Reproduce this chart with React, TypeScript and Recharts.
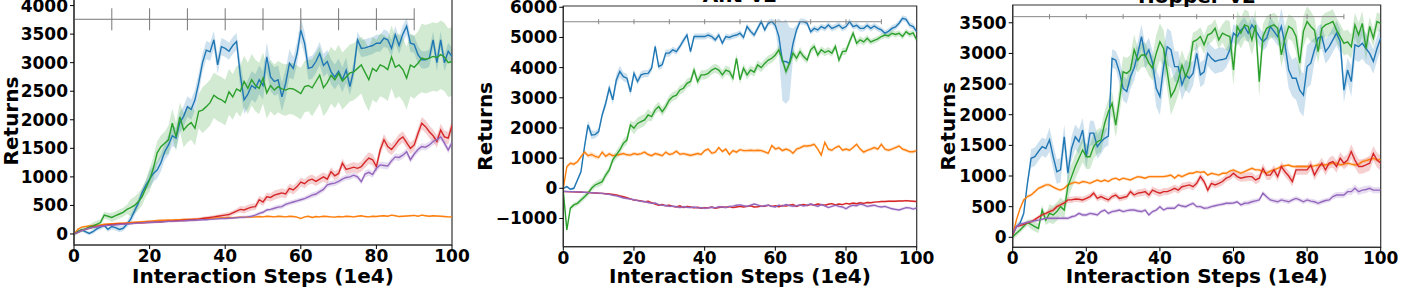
import React from 'react';
import { ComposedChart, Line, Area, XAxis, YAxis, ReferenceArea, Label } from 'recharts';

const FONT = '"DejaVu Sans", "Liberation Sans", sans-serif';
const STEPS: number[] = Array.from({ length: 101 }, (_, i) => i);
const X_TICKS = [0, 20, 40, 60, 80, 100];
const MARKER_X = [0, 10, 20, 30, 40, 50, 60, 70, 80, 90];
const TITLES = ['Walker2d-v2', 'Ant-v2', 'Hopper-v2'];
const X_LABEL = 'Interaction Steps (1e4)';
const Y_LABEL = 'Returns';
const COLORS = { blue: '#1f77b4', orange: '#ff7f0e', green: '#2ca02c', red: '#d62728', purple: '#9467bd' };

// ---------- Panel 1 ----------
const P1_Y_TICKS = [0, 500, 1000, 1500, 2000, 2500, 3000, 3500, 4000];
const P1_MARKER = 3760;
const P1_BLUE = [
  0, 40, 70, 40, 10, 40, 90, 120, 150, 80,
  130, 110, 80, 100, 170, 260, 400, 540, 720, 850,
  960, 1060, 1120, 1250, 1440, 1560, 1720, 1680, 1950, 2060,
  2230, 2180, 2350, 2650, 3000, 3220, 3190, 3400, 2960, 3280,
  3250, 3200, 3300, 3370, 2780, 2350, 2450, 2600, 2550, 2700,
  2600, 3100, 2750, 2670, 2700, 2400, 2640, 2990, 2900, 3160,
  3570, 3340, 2900, 2920, 3020, 3160, 2950, 3020, 2840, 2750,
  2850, 2700, 2870, 2580, 2870, 3400, 3250, 3260, 3280, 3300,
  3340, 3340, 3430, 3400, 3250, 3490, 3300, 3500, 3640, 3340,
  3320, 3140, 3050, 3050, 3080, 3400, 3000, 3400, 3000, 3200,
  3110,
];
const P1_GREEN = [
  0, 40, 70, 90, 120, 140, 170, 200, 330, 310,
  290, 320, 350, 380, 430, 460, 500, 565, 650, 800,
  950, 1150, 1420, 1530, 1590, 1650, 1940, 1700, 2050, 1820,
  1900, 1950, 1850, 2150, 2170, 2230, 2300, 2430, 2380, 2350,
  2300, 2490, 2400, 2540, 2500, 2670, 2550, 2700, 2600, 2550,
  2730, 2470, 2600, 2520, 2580, 2540, 2520, 2550, 2540, 2500,
  2460, 2580, 2600, 2560, 2670, 2780, 2560, 2650, 2780, 2700,
  2810, 2680, 2750, 2820, 2840, 2900, 2960, 2830, 2700, 2900,
  2850, 2960, 2930, 2880, 3100, 2920, 2960, 2880, 2730, 2960,
  2920, 2990, 3080, 3060, 3080, 3110, 3090, 3140, 3100, 3000,
  3020,
];
const P1_RED = [
  0, 30, 60, 80, 100, 120, 130, 140, 150, 160,
  165, 170, 175, 180, 185, 185, 190, 195, 195, 200,
  205, 205, 210, 215, 220, 225, 225, 230, 235, 240,
  245, 250, 255, 260, 270, 280, 290, 300, 310, 320,
  330, 340, 370, 400, 430, 420, 450, 470, 480, 600,
  560, 650, 640, 680, 700, 720, 700, 800, 770, 830,
  910, 880, 940, 960, 920, 960, 1000, 960, 1090, 1020,
  1060, 1240, 1130, 1150, 1170, 1150, 1180, 1260, 1330, 1300,
  1180, 1470, 1650, 1530, 1480, 1560, 1650, 1700, 1600, 1500,
  1560, 1760, 1940, 1880, 1790, 1720, 1620, 1820, 1700, 1680,
  1900,
];
const P1_PURPLE = [
  0, 30, 60, 80, 100, 115, 125, 135, 145, 150,
  155, 160, 165, 170, 175, 180, 185, 190, 195, 200,
  200, 205, 210, 210, 215, 220, 220, 225, 230, 230,
  235, 240, 240, 245, 250, 250, 255, 260, 265, 270,
  270, 275, 280, 285, 290, 295, 300, 310, 330, 360,
  380, 420, 430, 450, 470, 480, 520, 540, 560, 580,
  600, 620, 650, 680, 700, 740, 780, 860, 880, 890,
  920, 960, 990, 1000, 1030, 1000, 915, 1050, 1080, 1040,
  1150, 1210, 1200, 1190, 1280, 1350, 1340, 1380, 1440, 1300,
  1400, 1480, 1530, 1520, 1560, 1620, 1650, 1700, 1590, 1470,
  1600,
];
const P1_ORANGE = [
  0, 80, 120, 130, 140, 150, 155, 160, 170, 175,
  180, 185, 190, 190, 195, 200, 205, 210, 215, 220,
  225, 230, 235, 240, 240, 245, 245, 250, 250, 255,
  255, 260, 260, 265, 270, 270, 275, 275, 280, 280,
  285, 290, 285, 290, 295, 290, 300, 295, 300, 305,
  300, 310, 305, 300, 310, 305, 300, 310, 305, 295,
  270, 300, 310, 290, 305, 300, 310, 305, 300, 295,
  305, 300, 310, 305, 300, 310, 320, 305, 300, 310,
  305, 315, 320, 310, 330, 320, 305, 310, 315, 320,
  325, 310, 330, 320, 310, 320, 315, 310, 305, 300,
  300,
];
const P1_BLUE_SPREAD = [30, 40, 50, 80, 150, 180, 180, 160, 150, 250, 250, 250, 200, 200, 220, 150, 150, 150, 150, 150, 150];
const P1_ORANGE_SPREAD = [10, 10, 10, 15, 15, 15, 15, 15, 15, 15, 15, 15, 15, 15, 15, 15, 15, 15, 15, 15, 15];
const P1_GREEN_SPREAD = [40, 60, 80, 150, 200, 250, 300, 400, 400, 450, 450, 450, 450, 500, 500, 500, 550, 550, 550, 600, 600];
const P1_RED_SPREAD = [10, 20, 20, 20, 20, 20, 30, 30, 40, 60, 70, 80, 80, 80, 80, 90, 100, 100, 100, 110, 110];
const P1_PURPLE_SPREAD = [10, 15, 15, 15, 15, 20, 20, 20, 20, 30, 30, 40, 40, 50, 50, 50, 60, 60, 60, 60, 60];

// ---------- Panel 2 ----------
const P2_Y_TICKS = [-1000, 0, 1000, 2000, 3000, 4000, 5000, 6000];
const P2_MARKER = 5520;
const P2_BLUE = [
  0, 55, -30, 0, 275, 550, 1380, 2100, 1770, 1780,
  1880, 2430, 2820, 3315, 2930, 3590, 3870, 3700, 3650, 3200,
  3810, 3540, 3760, 3800, 3810, 3980, 4700, 4030, 4100, 4480,
  4480, 4590, 4530, 4700, 4900, 5080, 4530, 5030, 5030, 5030,
  5030, 5080, 5030, 4920, 5080, 4810, 5030, 5000, 5050, 5080,
  5140, 5000, 5360, 5200, 5080, 5300, 5525, 5250, 5470, 5525,
  5400, 5030, 4200, 4200, 4140, 4800, 5250, 5525, 5525, 5470,
  5190, 5300, 5250, 5360, 5300, 5410, 5300, 5350, 5410, 5300,
  5360, 5525, 5360, 5400, 5300, 5300, 5400, 5300, 5380, 5300,
  5250, 5140, 5200, 5300, 5350, 5470, 5635, 5600, 5410, 5360,
  5190,
];
const P2_GREEN = [
  -100, -1380, -660, -550, -500, -390, -280, -165, 0, 110,
  165, 220, 440, 610, 940, 1105, 1270, 1490, 1600, 2100,
  1990, 2150, 2210, 2265, 2430, 2375, 2600, 2710, 2540, 2710,
  2930, 3040, 3090, 3260, 3315, 3480, 3540, 3920, 3540, 3760,
  3760, 3810, 3920, 3980, 3920, 3760, 3920, 3870, 3650, 4310,
  3600, 3980, 3760, 3920, 3850, 4090, 4000, 4140, 4250, 4310,
  4420, 4590, 4250, 3870, 4140, 4480, 4310, 4530, 4365, 4250,
  4590, 4700, 4420, 4590, 4500, 4560, 4480, 4700, 4250, 4530,
  4550, 4860, 5140, 4810, 4920, 4850, 4970, 4850, 4900, 4950,
  5030, 5080, 5050, 5140, 5100, 5140, 5030, 5190, 5100, 5150,
  4920,
];
const P2_ORANGE = [
  0, 720, 830, 800, 880, 1050, 1200, 1080, 1120, 1060,
  1020, 1200, 1060, 1140, 1080, 1100, 1120, 1150, 1110, 1100,
  1150, 1120, 1150, 1200, 1120, 1080, 1150, 1120, 1080, 1200,
  1120, 1150, 1230, 1130, 1150, 1120, 1090, 1120, 1150, 1120,
  1250, 1300, 1160, 1200, 1350, 1220, 1300, 1120, 1250, 1200,
  1280, 1250, 1250, 1260, 1250, 1260, 1250, 1210, 1160, 1420,
  1300, 1340, 1250, 1300, 1260, 1160, 1300, 1340, 1400, 1400,
  1420, 1460, 1300, 1100, 1520, 1300, 1260, 1350, 1400, 1260,
  1300, 1260, 1350, 1460, 1300, 1200, 1260, 1300, 1350, 1300,
  1460, 1300, 1260, 1300, 1350, 1400, 1300, 1260, 1210, 1210,
  1250,
];
const P2_RED = [
  -110, -110, -115, -120, -125, -130, -135, -140, -150, -155,
  -165, -170, -180, -190, -200, -220, -250, -280, -310, -350,
  -390, -400, -420, -450, -430, -480, -520, -560, -540, -580,
  -560, -600, -620, -580, -640, -600, -620, -650, -630, -660,
  -640, -650, -620, -660, -640, -620, -630, -610, -640, -620,
  -600, -620, -600, -580, -620, -610, -590, -600, -560, -600,
  -580, -610, -570, -590, -560, -540, -600, -560, -540, -570,
  -530, -560, -520, -540, -560, -530, -510, -550, -520, -540,
  -500, -520, -490, -510, -480, -500, -470, -480, -460, -450,
  -440, -440, -430, -430, -430, -420, -420, -410, -420, -430,
  -440,
];
const P2_PURPLE = [
  -100, -105, -110, -115, -120, -125, -130, -140, -145, -155,
  -160, -170, -185, -200, -230, -250, -280, -320, -340, -360,
  -380, -410, -430, -440, -470, -500, -490, -540, -560, -570,
  -600, -590, -610, -640, -610, -630, -640, -620, -650, -640,
  -660, -650, -630, -650, -610, -620, -640, -600, -590, -560,
  -550, -580, -600, -560, -520, -550, -600, -580, -560, -600,
  -620, -560, -590, -540, -570, -600, -580, -550, -590, -560,
  -520, -560, -600, -540, -580, -640, -600, -560, -600, -620,
  -680, -600, -560, -580, -520, -550, -600, -580, -560, -600,
  -620, -600, -640, -680, -700, -720, -680, -640, -650, -690,
  -650,
];
const P2_BLUE_SPREAD = [
  40, 40, 40, 50, 60, 80, 100, 150, 150, 120,
  120, 120, 150, 150, 150, 200, 200, 150, 150, 150,
  120, 120, 120, 120, 120, 120, 120, 120, 120, 120,
  120, 100, 100, 100, 100, 100, 100, 100, 100, 100,
  100, 100, 100, 100, 100, 100, 100, 100, 100, 100,
  100, 100, 100, 100, 100, 100, 100, 100, 100, 100,
  150, 600, 1300, 1400, 1200, 500, 150, 100, 100, 100,
  100, 100, 100, 100, 100, 100, 100, 100, 100, 100,
  100, 100, 100, 100, 100, 100, 100, 100, 100, 100,
  100, 100, 100, 100, 100, 100, 100, 100, 100, 100,
  100,
];
const P2_ORANGE_SPREAD = [60, 80, 70, 60, 60, 60, 60, 60, 60, 60, 60, 60, 60, 60, 60, 60, 60, 60, 60, 60, 60];
const P2_GREEN_SPREAD = [80, 100, 120, 150, 200, 150, 150, 150, 150, 150, 150, 150, 150, 150, 120, 120, 120, 120, 100, 100, 100];
const P2_RED_SPREAD = [20, 20, 30, 30, 30, 30, 30, 30, 30, 30, 30, 30, 30, 30, 30, 30, 30, 30, 30, 30, 30];
const P2_PURPLE_SPREAD = [20, 20, 30, 30, 30, 30, 40, 40, 40, 40, 40, 40, 40, 40, 40, 40, 50, 50, 50, 50, 50];

// ---------- Panel 3 ----------
const P3_Y_TICKS = [0, 500, 1000, 1500, 2000, 2500, 3000, 3500];
const P3_MARKER = 3600;
const P3_BLUE = [
  65, 175, 230, 390, 880, 1290, 1315, 1400, 1480, 1450,
  1590, 1315, 1070, 1100, 1640, 1045, 1450, 1640, 1560, 1750,
  1315, 1700, 1700, 1480, 1560, 1615, 1650, 2920, 2890, 2700,
  2430, 2380, 2620, 2760, 3000, 3275, 2950, 3060, 2840, 2430,
  2295, 2785, 3110, 3060, 2785, 2785, 2485, 2650, 2595, 2675,
  3000, 2650, 2700, 3000, 2920, 2870, 2890, 2900, 2920, 3060,
  3330, 3275, 3380, 3440, 3330, 3465, 3380, 3275, 3190, 3250,
  3440, 3360, 3275, 3440, 3140, 2730, 2595, 2595, 2400, 2320,
  2785, 2840, 3060, 3250, 3275, 3030, 3110, 3220, 3330, 3190,
  2400, 2730, 2540, 3140, 3110, 3165, 3080, 3000, 2870, 3080,
  3250,
];
const P3_GREEN = [
  10, 65, 120, 180, 240, 210, 175, 145, 445, 280,
  390, 365, 420, 500, 445, 830, 990, 1155, 1290, 1425,
  1315, 1315, 1480, 1560, 1590, 1860, 2050, 2185, 1830, 2240,
  2700, 2675, 2730, 3060, 2890, 2975, 2975, 2840, 2760, 3000,
  3190, 3080, 2700, 2295, 2400, 2570, 2810, 2620, 2785, 3190,
  3220, 3275, 3140, 3300, 3330, 3410, 3220, 3330, 3300, 3275,
  2730, 3440, 3330, 3465, 3440, 3220, 3465, 2540, 3275, 3410,
  3440, 3465, 3410, 2975, 3250, 3440, 3400, 3275, 2840, 3360,
  3520, 3440, 3380, 3030, 3410, 3465, 3490, 3520, 3380, 3275,
  3165, 3190, 3110, 3465, 3300, 3490, 3080, 3440, 3250, 3520,
  3490,
];
const P3_ORANGE = [
  40, 280, 470, 610, 665, 690, 745, 800, 825, 855,
  855, 820, 790, 770, 800, 855, 880, 900, 880, 910,
  900, 880, 910, 935, 910, 935, 910, 950, 965, 935,
  965, 950, 935, 965, 990, 980, 965, 990, 990, 990,
  990, 990, 1000, 1015, 965, 1015, 990, 1020, 1045, 1045,
  1070, 1060, 1070, 1015, 1045, 1030, 1015, 1045, 1045, 1080,
  1100, 1070, 1045, 1070, 1100, 1125, 1100, 1100, 1070, 1045,
  1080, 1100, 1125, 1155, 1170, 1180, 1155, 1155, 1155, 1155,
  1155, 1155, 1165, 1180, 1180, 1180, 1195, 1210, 1210, 1180,
  1195, 1210, 1195, 1180, 1190, 1235, 1250, 1270, 1290, 1260,
  1270,
];
const P3_RED = [
  40, 175, 190, 210, 235, 255, 290, 330, 365, 390,
  420, 445, 500, 530, 560, 610, 610, 625, 620, 610,
  635, 665, 720, 635, 665, 635, 610, 665, 690, 635,
  650, 665, 745, 690, 720, 730, 745, 690, 770, 740,
  720, 745, 745, 770, 800, 770, 825, 840, 855, 825,
  880, 990, 910, 770, 880, 855, 880, 910, 965, 990,
  1045, 990, 965, 980, 990, 990, 935, 965, 1125, 1015,
  1015, 1100, 990, 1155, 1070, 1000, 910, 1100, 1100, 1100,
  1100, 1180, 1015, 1125, 1210, 1100, 1210, 1235, 1155, 1290,
  1210, 1260, 1400, 1260, 1155, 1155, 1180, 1210, 1370, 1260,
  1210,
];
const P3_PURPLE = [
  65, 175, 215, 230, 245, 255, 270, 280, 295, 310,
  310, 310, 310, 310, 310, 310, 335, 350, 390, 365,
  365, 390, 380, 365, 420, 445, 390, 420, 430, 445,
  420, 435, 445, 445, 430, 420, 445, 365, 420, 445,
  500, 445, 475, 475, 475, 530, 510, 500, 530, 555,
  500, 500, 475, 480, 500, 515, 530, 540, 555, 555,
  560, 580, 530, 555, 560, 580, 595, 610, 720, 660,
  610, 595, 580, 610, 595, 580, 610, 635, 610, 580,
  610, 590, 580, 555, 580, 600, 610, 665, 690, 690,
  690, 745, 745, 800, 745, 770, 780, 800, 770, 770,
  770,
];
const P3_BLUE_SPREAD = [50, 150, 200, 200, 200, 150, 200, 200, 300, 250, 200, 200, 150, 150, 150, 300, 350, 200, 200, 250, 200];
const P3_ORANGE_SPREAD = [30, 30, 25, 25, 25, 25, 25, 25, 25, 25, 25, 25, 25, 25, 25, 25, 25, 30, 30, 30, 30];
const P3_GREEN_SPREAD = [50, 80, 150, 200, 200, 200, 250, 200, 300, 250, 150, 150, 250, 250, 200, 200, 250, 200, 200, 200, 150];
const P3_RED_SPREAD = [20, 30, 40, 50, 50, 50, 50, 60, 60, 60, 60, 60, 60, 70, 80, 80, 80, 90, 100, 120, 120];
const P3_PURPLE_SPREAD = [20, 25, 30, 30, 30, 30, 30, 30, 30, 30, 30, 30, 30, 40, 40, 40, 40, 40, 50, 60, 50];

type Series = { key: string; color: string; mean: number[]; spread: number[] };

function spreadAt(spread: number[], i: number) {
  const idx = Math.min(spread.length - 1, Math.floor((i * spread.length) / STEPS.length));
  return spread[idx];
}

function buildRows(series: Series[]) {
  return STEPS.map((x, i) => {
    const row: any = { x };
    series.forEach((s) => {
      const sp = spreadAt(s.spread, i);
      row[s.key] = s.mean[i];
      row[s.key + 'Band'] = [s.mean[i] - sp, s.mean[i] + sp];
    });
    return row;
  });
}

const mk = (p: string, blue: number[], bs: number[], orange: number[], os: number[], green: number[], gs: number[], red: number[], rs: number[], purple: number[], ps: number[]): Series[] => [
  { key: p + 'blue', color: COLORS.blue, mean: blue, spread: bs },
  { key: p + 'orange', color: COLORS.orange, mean: orange, spread: os },
  { key: p + 'green', color: COLORS.green, mean: green, spread: gs },
  { key: p + 'red', color: COLORS.red, mean: red, spread: rs },
  { key: p + 'purple', color: COLORS.purple, mean: purple, spread: ps },
];

const SERIES1 = mk('a', P1_BLUE, P1_BLUE_SPREAD, P1_ORANGE, P1_ORANGE_SPREAD, P1_GREEN, P1_GREEN_SPREAD, P1_RED, P1_RED_SPREAD, P1_PURPLE, P1_PURPLE_SPREAD);
const SERIES2 = mk('b', P2_BLUE, P2_BLUE_SPREAD, P2_ORANGE, P2_ORANGE_SPREAD, P2_GREEN, P2_GREEN_SPREAD, P2_RED, P2_RED_SPREAD, P2_PURPLE, P2_PURPLE_SPREAD);
const SERIES3 = mk('c', P3_BLUE, P3_BLUE_SPREAD, P3_ORANGE, P3_ORANGE_SPREAD, P3_GREEN, P3_GREEN_SPREAD, P3_RED, P3_RED_SPREAD, P3_PURPLE, P3_PURPLE_SPREAD);

const CHART_TOP = -10;
const CHART_H = 299;

type PanelProps = {
  left: number;
  width: number;
  yAxisWidth: number;
  marginTop: number;
  marginRight: number;
  xAxisHeight: number;
  domain: [number, number];
  yTicks: number[];
  series: Series[];
  marker: number;
  markerHalf: number;
  markerColor: string;
  yLabelX: number;
};

const fmt = (v: number) => (v < 0 ? '\u2212' + Math.abs(v) : String(v));

function Panel(p: PanelProps) {
  const rows = buildRows(p.series);
  const markerData = MARKER_X.map((x) => ({ x, m: p.marker }));
  const plotW = p.width - p.yAxisWidth - p.marginRight;
  const plotTop = p.marginTop;
  const plotBottom = CHART_H - p.xAxisHeight;
  const tickStyle = { fontSize: 17, fontWeight: 700, fill: '#000', fontFamily: FONT };
  const xLabel = () => (
    <text x={p.yAxisWidth + plotW / 2} y={283 - CHART_TOP} textAnchor="middle" fontSize={20} fontWeight={700} fontFamily={FONT} fill="#000">
      {X_LABEL}
    </text>
  );
  const yl = p.yLabelX - p.left;
  const yc = (plotTop + plotBottom) / 2;
  const yLabel = () => (
    <text x={yl} y={yc} transform={`rotate(-90, ${yl}, ${yc})`} textAnchor="middle" dominantBaseline="central" fontSize={20} fontWeight={700} fontFamily={FONT} fill="#000">
      {Y_LABEL}
    </text>
  );
  const markerDot = (d: any) =>
    d.payload && d.payload.x > 0 ? (
      <line key={'mk' + d.index} x1={d.cx} x2={d.cx} y1={d.cy - p.markerHalf} y2={d.cy + p.markerHalf} stroke={p.markerColor} strokeWidth={1} />
    ) : (
      <g key={'mk' + d.index} />
    );
  return (
    <div style={{ position: 'absolute', left: p.left, top: CHART_TOP, width: p.width, height: CHART_H }}>
      <ComposedChart width={p.width} height={CHART_H} data={rows} margin={{ top: p.marginTop, right: p.marginRight, bottom: 0, left: 0 }}>
        <XAxis
          dataKey="x"
          type="number"
          domain={[0, 100]}
          ticks={X_TICKS}
          interval={0}
          allowDataOverflow
          height={p.xAxisHeight}
          tick={tickStyle}
          tickSize={4}
          tickMargin={1}
          axisLine={{ stroke: '#333', strokeWidth: 1.2 }}
          tickLine={{ stroke: '#000' }}
        >
          <Label content={xLabel} />
        </XAxis>
        <YAxis
          type="number"
          domain={p.domain}
          ticks={p.yTicks}
          interval={0}
          allowDataOverflow
          width={p.yAxisWidth}
          tick={tickStyle}
          tickFormatter={fmt}
          tickSize={4}
          tickMargin={2}
          axisLine={{ stroke: '#333', strokeWidth: 1.2 }}
          tickLine={{ stroke: '#000' }}
        >
          <Label content={yLabel} />
        </YAxis>
        {p.series.flatMap((s) => [
          <Area
            key={s.key + 'Band'}
            dataKey={s.key + 'Band'}
            type="linear"
            stroke="none"
            fill={s.color}
            fillOpacity={0.22}
            isAnimationActive={false}
            activeDot={false}
            dot={false}
          />,
          <Line
            key={s.key}
            dataKey={s.key}
            type="linear"
            stroke={s.color}
            strokeWidth={1.4}
            dot={false}
            activeDot={false}
            isAnimationActive={false}
          />,
        ])}
        <Line
          data={markerData}
          dataKey="m"
          type="linear"
          stroke={p.markerColor}
          strokeWidth={1}
          dot={markerDot}
          activeDot={false}
          isAnimationActive={false}
        />
        <ReferenceArea x1={0} x2={100} y1={p.domain[0]} y2={p.domain[1]} fill="none" stroke="#333" strokeWidth={1.2} ifOverflow="visible" />
      </ComposedChart>
    </div>
  );
}

export default function App() {
  return (
    <div style={{ position: 'absolute', left: 0, top: 0, width: 1401, height: 289, overflow: 'hidden', background: '#fff' }}>
      <Panel
        left={0}
        width={480}
        yAxisWidth={74}
        marginTop={7}
        marginRight={28}
        xAxisHeight={44}
        domain={[-193, 4150]}
        yTicks={P1_Y_TICKS}
        series={SERIES1}
        marker={P1_MARKER}
        markerHalf={11}
        markerColor="#777"
        yLabelX={11}
      />
      <Panel
        left={468}
        width={482}
        yAxisWidth={95.3}
        marginTop={16}
        marginRight={33.3}
        xAxisHeight={42.3}
        domain={[-1936, 6042]}
        yTicks={P2_Y_TICKS}
        series={SERIES2}
        marker={P2_MARKER}
        markerHalf={2.5}
        markerColor="#888"
        yLabelX={485}
      />
      <Panel
        left={935}
        width={466}
        yAxisWidth={77.7}
        marginTop={15}
        marginRight={20.3}
        xAxisHeight={41.7}
        domain={[-163, 3790]}
        yTicks={P3_Y_TICKS}
        series={SERIES3}
        marker={P3_MARKER}
        markerHalf={2.5}
        markerColor="#888"
        yLabelX={948}
      />
      <svg width={1401} height={289} style={{ position: 'absolute', left: 0, top: 0, pointerEvents: 'none' }}>
        <text x={263} y={-6} textAnchor="middle" fontSize={20} fontWeight={700} fontFamily={FONT} fill="#000">{TITLES[0]}</text>
        <text x={740} y={2} textAnchor="middle" fontSize={20} fontWeight={700} fontFamily={FONT} fill="#000">{TITLES[1]}</text>
        <text x={1197} y={3} textAnchor="middle" fontSize={20} fontWeight={700} fontFamily={FONT} fill="#000">{TITLES[2]}</text>
      </svg>
    </div>
  );
}
